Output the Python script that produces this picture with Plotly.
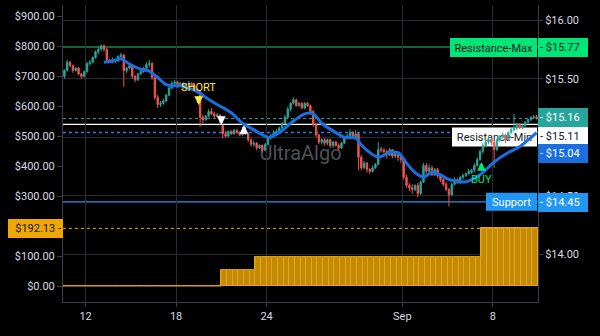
import plotly.graph_objects as go

# ---------------------------------------------------------------- calendar
trading_days = [
    "2021-08-11", "2021-08-12", "2021-08-13", "2021-08-16", "2021-08-17", "2021-08-18",
    "2021-08-19", "2021-08-20", "2021-08-23", "2021-08-24", "2021-08-25", "2021-08-26",
    "2021-08-27", "2021-08-30", "2021-08-31", "2021-09-01", "2021-09-02", "2021-09-03",
    "2021-09-07", "2021-09-08", "2021-09-09",
]
bars_per_day = 8
tick_days = ["2021-08-12", "2021-08-18", "2021-08-24", "2021-09-01", "2021-09-08"]
tick_text = ["12", "18", "24", "Sep", "8"]

# ---------------------------------------------------------------- intraday OHLC (8 bars / session)
opens = [
    15.52, 15.57, 15.64, 15.61, 15.57, 15.59, 15.54, 15.52,
    15.56, 15.63, 15.64, 15.68, 15.73, 15.75, 15.78, 15.75,
    15.66, 15.64, 15.66, 15.65, 15.69, 15.70, 15.57, 15.59,
    15.61, 15.52, 15.49, 15.54, 15.56, 15.59, 15.62, 15.63,
    15.51, 15.34, 15.28, 15.29, 15.31, 15.36, 15.42, 15.46,
    15.47, 15.44, 15.46, 15.42, 15.45, 15.46, 15.44, 15.41,
    15.39, 15.17, 15.15, 15.18, 15.22, 15.20, 15.18, 15.19,
    15.10, 15.03, 15.01, 15.05, 15.03, 15.06, 15.04, 15.02,
    15.065, 15.03, 14.98, 14.94, 14.95, 14.91, 14.93, 14.89,
    14.94, 15.00, 15.01, 15.04, 15.05, 15.08, 15.12, 15.17,
    15.24, 15.29, 15.32, 15.27, 15.29, 15.25, 15.29, 15.27,
    15.22, 15.11, 15.02, 14.96, 14.98, 14.95, 14.98, 14.93,
    14.96, 14.93, 14.91, 14.95, 15.00, 15.01, 15.04, 15.00,
    15.03, 14.83, 14.74, 14.78, 14.725, 14.71, 14.74, 14.77,
    14.90, 14.89, 14.88, 14.85, 14.895, 14.84, 14.86, 14.83,
    14.81, 14.66, 14.59, 14.57, 14.555, 14.59, 14.52, 14.62,
    14.76, 14.71, 14.74, 14.68, 14.725, 14.67, 14.64, 14.60,
    14.555, 14.51, 14.60, 14.64, 14.615, 14.66, 14.675, 14.69,
    14.70, 14.72, 14.76, 14.81, 14.88, 14.93, 14.96, 14.98,
    14.955, 14.895, 14.98, 15.00, 15.02, 14.98, 15.04, 15.065,
    15.08, 15.115, 15.08, 15.10, 15.13, 15.15, 15.17, 15.175,
]
highs = [
    15.58, 15.66, 15.65, 15.62, 15.60, 15.60, 15.55, 15.57,
    15.64, 15.66, 15.69, 15.74, 15.77, 15.79, 15.79, 15.76,
    15.67, 15.68, 15.67, 15.70, 15.72, 15.71, 15.60, 15.62,
    15.62, 15.53, 15.55, 15.57, 15.60, 15.64, 15.66, 15.64,
    15.52, 15.36, 15.31, 15.33, 15.37, 15.43, 15.48, 15.49,
    15.48, 15.47, 15.47, 15.46, 15.48, 15.47, 15.45, 15.42,
    15.39, 15.19, 15.19, 15.24, 15.25, 15.22, 15.21, 15.20,
    15.11, 15.05, 15.06, 15.06, 15.07, 15.07, 15.05, 15.07,
    15.08, 15.04, 14.99, 14.97, 14.96, 14.94, 14.94, 14.95,
    15.01, 15.03, 15.06, 15.07, 15.09, 15.13, 15.19, 15.26,
    15.30, 15.34, 15.33, 15.30, 15.30, 15.30, 15.30, 15.28,
    15.23, 15.12, 15.03, 14.99, 14.99, 14.99, 14.99, 14.97,
    14.97, 14.95, 14.96, 15.01, 15.03, 15.07, 15.05, 15.06,
    15.04, 14.85, 14.80, 14.79, 14.74, 14.76, 14.78, 14.96,
    14.92, 14.91, 14.89, 14.91, 14.90, 14.87, 14.87, 14.84,
    14.82, 14.68, 14.61, 14.60, 14.60, 14.61, 14.63, 14.78,
    14.78, 14.77, 14.76, 14.74, 14.74, 14.69, 14.66, 14.62,
    14.57, 14.61, 14.66, 14.65, 14.67, 14.69, 14.70, 14.73,
    14.73, 14.78, 14.83, 14.89, 14.95, 14.99, 15.01, 14.99,
    14.97, 14.99, 15.02, 15.04, 15.03, 15.05, 15.08, 15.20,
    15.12, 15.12, 15.11, 15.14, 15.16, 15.18, 15.19, 15.19,
]
lows = [
    15.50, 15.56, 15.60, 15.55, 15.56, 15.53, 15.50, 15.51,
    15.55, 15.61, 15.63, 15.67, 15.71, 15.74, 15.73, 15.65,
    15.63, 15.63, 15.63, 15.64, 15.68, 15.43, 15.55, 15.58,
    15.50, 15.47, 15.48, 15.53, 15.55, 15.58, 15.60, 15.49,
    15.32, 15.25, 15.26, 15.28, 15.30, 15.35, 15.41, 15.44,
    15.42, 15.43, 15.41, 15.41, 15.44, 15.43, 15.40, 15.38,
    15.09, 15.12, 15.14, 15.17, 15.19, 15.16, 15.17, 15.14,
    14.99, 15.00, 15.00, 15.02, 15.02, 15.03, 15.01, 15.01,
    15.02, 14.96, 14.92, 14.92, 14.89, 14.90, 14.87, 14.88,
    14.93, 14.98, 15.00, 15.02, 15.04, 15.07, 15.11, 15.16,
    15.22, 15.28, 15.26, 15.26, 15.24, 15.24, 15.26, 15.21,
    15.09, 15.00, 14.94, 14.94, 14.93, 14.93, 14.91, 14.91,
    14.92, 14.89, 14.90, 14.94, 14.99, 15.00, 14.99, 14.99,
    14.72, 14.72, 14.73, 14.70, 14.69, 14.70, 14.73, 14.76,
    14.87, 14.86, 14.82, 14.84, 14.82, 14.82, 14.80, 14.78,
    14.64, 14.57, 14.54, 14.52, 14.54, 14.49, 14.51, 14.61,
    14.69, 14.70, 14.67, 14.67, 14.65, 14.62, 14.58, 14.54,
    14.41, 14.50, 14.59, 14.60, 14.60, 14.64, 14.66, 14.68,
    14.69, 14.70, 14.75, 14.80, 14.86, 14.92, 14.94, 14.93,
    14.74, 14.88, 14.96, 14.99, 14.95, 14.97, 15.03, 15.05,
    15.06, 15.07, 15.07, 15.09, 15.12, 15.14, 15.16, 15.15,
]
closes = [
    15.57, 15.64, 15.61, 15.57, 15.59, 15.54, 15.52, 15.56,
    15.63, 15.64, 15.68, 15.73, 15.75, 15.78, 15.75, 15.66,
    15.64, 15.66, 15.65, 15.69, 15.70, 15.57, 15.59, 15.61,
    15.52, 15.49, 15.54, 15.56, 15.59, 15.62, 15.63, 15.51,
    15.34, 15.28, 15.29, 15.31, 15.36, 15.42, 15.46, 15.47,
    15.44, 15.46, 15.42, 15.45, 15.46, 15.44, 15.41, 15.39,
    15.17, 15.15, 15.18, 15.22, 15.20, 15.18, 15.19, 15.16,
    15.03, 15.01, 15.05, 15.03, 15.06, 15.04, 15.02, 15.065,
    15.03, 14.98, 14.94, 14.95, 14.91, 14.93, 14.89, 14.94,
    15.00, 15.01, 15.04, 15.05, 15.08, 15.12, 15.17, 15.24,
    15.29, 15.32, 15.27, 15.29, 15.25, 15.29, 15.27, 15.22,
    15.11, 15.02, 14.96, 14.98, 14.95, 14.98, 14.93, 14.96,
    14.93, 14.91, 14.95, 15.00, 15.01, 15.04, 15.00, 15.03,
    14.83, 14.74, 14.78, 14.725, 14.71, 14.74, 14.77, 14.895,
    14.89, 14.88, 14.85, 14.895, 14.84, 14.86, 14.83, 14.81,
    14.66, 14.59, 14.57, 14.555, 14.59, 14.52, 14.62, 14.76,
    14.71, 14.74, 14.68, 14.725, 14.67, 14.64, 14.60, 14.555,
    14.51, 14.60, 14.64, 14.615, 14.66, 14.675, 14.69, 14.71,
    14.72, 14.76, 14.81, 14.88, 14.93, 14.96, 14.98, 14.955,
    14.895, 14.98, 15.00, 15.02, 14.98, 15.04, 15.065, 15.08,
    15.115, 15.08, 15.10, 15.13, 15.15, 15.17, 15.175, 15.16,
]

# ---------------------------------------------------------------- moving average (bar index, value)
ma_bar = [14, 17, 20, 23, 27, 30, 33, 36, 38, 41, 44, 47, 50, 54, 59, 63, 68, 72, 76, 80,
          85, 88, 91, 96, 99, 103, 105, 108, 111, 115, 118, 121, 124, 127, 130, 133, 136,
          142, 147, 152, 157, 161, 167]
ma_vals = [15.64, 15.65, 15.67, 15.625, 15.58, 15.565, 15.51, 15.45, 15.44, 15.44, 15.42,
           15.39, 15.34, 15.28, 15.21, 15.12, 15.05, 15.00, 15.04, 15.12, 15.20, 15.20,
           15.12, 15.04, 15.00, 14.995, 14.935, 14.87, 14.83, 14.87, 14.87, 14.78, 14.70,
           14.66, 14.70, 14.68, 14.64, 14.62, 14.68, 14.79, 14.87, 14.92, 15.04]

# ---------------------------------------------------------------- strategy equity (one step per 2 bars)
bars_per_equity_step = 2
equity = [
    0, 0, 0, 0, 0, 0, 0, 0, 0, 0, 0, 0, 0, 0, 0, 0, 0, 0, 0, 0, 0, 0, 0, 0, 0, 0, 0, 0,
    54.5, 54.5, 54.5, 54.5, 54.5, 54.5,
    97.6, 97.6, 97.6, 97.6, 97.6, 97.6, 97.6, 97.6, 97.6, 97.6,
    97.6, 97.6, 97.6, 97.6, 97.6, 97.6, 97.6, 97.6, 97.6, 97.6,
    97.6, 97.6, 97.6, 97.6, 97.6, 97.6, 97.6, 97.6, 97.6, 97.6,
    97.6, 97.6, 97.6, 97.6, 97.6, 97.6, 97.6, 97.6, 97.6, 97.6,
    192.13, 192.13, 192.13, 192.13, 192.13, 192.13, 192.13, 192.13, 192.13, 192.13,
]

# ---------------------------------------------------------------- levels and signals
resistance_max = 15.77
resistance_min = 15.11
support_level = 14.45

signal_bar = [47.5, 55.5, 63.5, 147.5]
signal_price = [15.276, 15.105, 15.105, 14.79]
signal_dir = ["down", "down", "up", "up"]
signal_color = ["#ffeb3b", "#ffffff", "#ffffff", "#00e676"]
signal_text = ["SHORT", "", "", "BUY"]

# ---------------------------------------------------------------- axis scales
price_range = [13.596, 16.128]
equity_range = [-53.3, 936.7]
price_ticks = [14.0, 14.5, 15.0, 15.5, 16.0]
hidden_price_ticks = [15.0]          # covered by the level tags
equity_ticks = [0, 100, 300, 400, 500, 600, 700, 800, 900]

# ---------------------------------------------------------------- colours
BG = "#000000"
GRID = "#2b2b33"
AXIS = "#3c3c48"
TEXT = "#d8dae0"
UP = "#26a69a"
DOWN = "#ef5350"
MA_BLUE = "#1a6fe0"
GREEN = "#00e676"
SUPPORT_BLUE = "#2196f3"
ORANGE = "#f0a800"
DARK = "#131722"

W, H = 600, 336
M = dict(l=63, r=62, t=5, b=34)
plot_w = W - M["l"] - M["r"]
plot_h = H - M["t"] - M["b"]

n = len(closes)
bar_x = list(range(n))
x_right = n - 0.5
tickvals = [trading_days.index(d) * bars_per_day - 0.5 for d in tick_days]
bars_per_px = n / plot_w
price_per_px = (price_range[1] - price_range[0]) / plot_h

fig = go.Figure()

# price candles on the main (right-hand) scale
fig.add_trace(go.Candlestick(
    x=bar_x, open=opens, high=highs, low=lows, close=closes, yaxis="y",
    increasing=dict(line=dict(color=UP, width=1), fillcolor=UP),
    decreasing=dict(line=dict(color=DOWN, width=1), fillcolor=DOWN),
    whiskerwidth=0, hoverinfo="skip",
))

# moving average
fig.add_trace(go.Scatter(
    x=ma_bar, y=ma_vals, yaxis="y", mode="lines",
    line=dict(color=MA_BLUE, width=3, shape="spline", smoothing=0.8),
    hoverinfo="skip",
))

# equity histogram on the left-hand scale
eq_x = [k * bars_per_equity_step + 0.5 for k in range(len(equity))]
fig.add_trace(go.Bar(
    x=eq_x, y=equity, width=bars_per_equity_step, yaxis="y2",
    marker=dict(color="#c48a06", line=dict(color="#e6a520", width=1)),
    hoverinfo="skip",
))
fig.add_trace(go.Scatter(
    x=[k * bars_per_equity_step - 0.5 for k in range(len(equity))] + [x_right],
    y=equity + [equity[-1]], yaxis="y2", mode="lines",
    line=dict(color="#d99a00", width=1, shape="hv"), hoverinfo="skip",
))

last_price = closes[-1]
ma_last = ma_vals[-1]
equity_last = equity[-1]


def hline(value, color, width, dash="solid", yref="y", layer="between"):
    return dict(type="line", xref="paper", x0=0, x1=1, yref=yref, y0=value, y1=value,
                line=dict(color=color, width=width, dash=dash), layer=layer)


# level tags hugging the right edge of the plot: (value, text, bg, fg, left px, below px, above px)
level_tags = [
    (resistance_max, "Resistance-Max", GREEN, DARK, 88, 10, 9),
    (resistance_min, "Resistance-Min", "#ffffff", DARK, 86, 22, -3),
    (support_level, "Support", SUPPORT_BLUE, "#ffffff", 52, 9, 9),
]

shapes = [
    dict(type="rect", xref="paper", x0=0.3, x1=0.7, yref="paper", y0=0.42, y1=0.59,
         line=dict(width=0), fillcolor="rgba(0,0,0,0)", layer="between",
         label=dict(text="UltraAlgo", font=dict(color="#505056", size=20, family="Roboto"))),
    hline(resistance_max, "#2fc57a", 1),
    hline(last_price, UP, 1, "dot"),
    hline(resistance_min, "#ffffff", 1.2),
    hline(ma_last, "#1e7ef0", 1.5, "dot"),
    hline(support_level, SUPPORT_BLUE, 1.2),
    hline(equity_last, ORANGE, 1, "dot", yref="y2", layer="above"),
]

for value, text, bg, fg, left_px, below_px, above_px in level_tags:
    shapes.append(dict(
        type="rect", xref="x", yref="y",
        x0=x_right - left_px * bars_per_px, x1=x_right - 1 * bars_per_px,
        y0=value - below_px * price_per_px, y1=value + above_px * price_per_px,
        fillcolor=bg, line=dict(width=0), layer="between",
        label=dict(text=text, font=dict(color=fg, size=11, family="Roboto")),
    ))


def axis_tag(value, bg, fg, yshift=0):
    return dict(xref="paper", x=1, xanchor="left", yref="y", y=value, yanchor="middle",
                text=f"- ${value:.2f}", showarrow=False, bgcolor=bg,
                font=dict(color=fg, size=11, family="Roboto"),
                width=46, height=15, borderpad=2, borderwidth=0, align="left", yshift=yshift)


annotations = [
    axis_tag(resistance_max, GREEN, DARK, -1),
    axis_tag(last_price, UP, "#ffffff", 1),
    axis_tag(resistance_min, "#ffffff", DARK, -12),
    axis_tag(ma_last, MA_BLUE, "#ffffff", -21),
    axis_tag(support_level, SUPPORT_BLUE, "#ffffff", -1),
    dict(xref="paper", x=0, xanchor="right", yref="y2", y=equity_last, yanchor="middle",
         text=f"${equity_last:.2f} -", showarrow=False, bgcolor=ORANGE,
         font=dict(color=DARK, size=11, family="Roboto"),
         width=51, height=15, borderpad=2, borderwidth=0, align="right"),
]

for bx, py, d, col, txt in zip(signal_bar, signal_price, signal_dir, signal_color, signal_text):
    annotations.append(dict(
        x=bx, y=py, xref="x", yref="y", text="", showarrow=True,
        ax=0, ay=-10 if d == "down" else 10,
        arrowhead=2, arrowsize=0.5, arrowwidth=3.5, arrowcolor=col,
    ))
    if txt:
        annotations.append(dict(
            x=bx, y=py, xref="x", yref="y", text=txt, showarrow=False,
            yshift=17 if d == "down" else -18,
            font=dict(color=col, size=11, family="Roboto"),
        ))

fig.update_layout(
    width=W, height=H,
    margin=M,
    paper_bgcolor=BG, plot_bgcolor=BG,
    font=dict(family="Roboto", size=11, color=TEXT),
    showlegend=False, hovermode=False,
    bargap=0,
    xaxis=dict(
        range=[-0.5, x_right], tickmode="array", tickvals=tickvals, ticktext=tick_text,
        showgrid=True, gridcolor=GRID, gridwidth=1, zeroline=False,
        showline=True, linecolor=AXIS, ticks="outside", ticklen=4, tickcolor=AXIS,
        rangeslider=dict(visible=False),
    ),
    yaxis=dict(
        range=price_range, side="right", tickmode="array", tickvals=price_ticks,
        ticktext=["" if v in hidden_price_ticks else f"${v:.2f}" for v in price_ticks],
        showgrid=True, gridcolor=GRID, gridwidth=1, zeroline=False,
        showline=True, linecolor=AXIS, ticks="outside", ticklen=4, tickcolor=AXIS,
    ),
    yaxis2=dict(
        range=equity_range, overlaying="y", side="left", tickmode="array",
        tickvals=equity_ticks, tickformat="$,.2f", showgrid=False, zeroline=False,
        showline=True, linecolor=AXIS, ticks="outside", ticklen=5, tickcolor=AXIS,
    ),
    shapes=shapes,
    annotations=annotations,
)

fig.write_html("out.html", config={"displayModeBar": False})
